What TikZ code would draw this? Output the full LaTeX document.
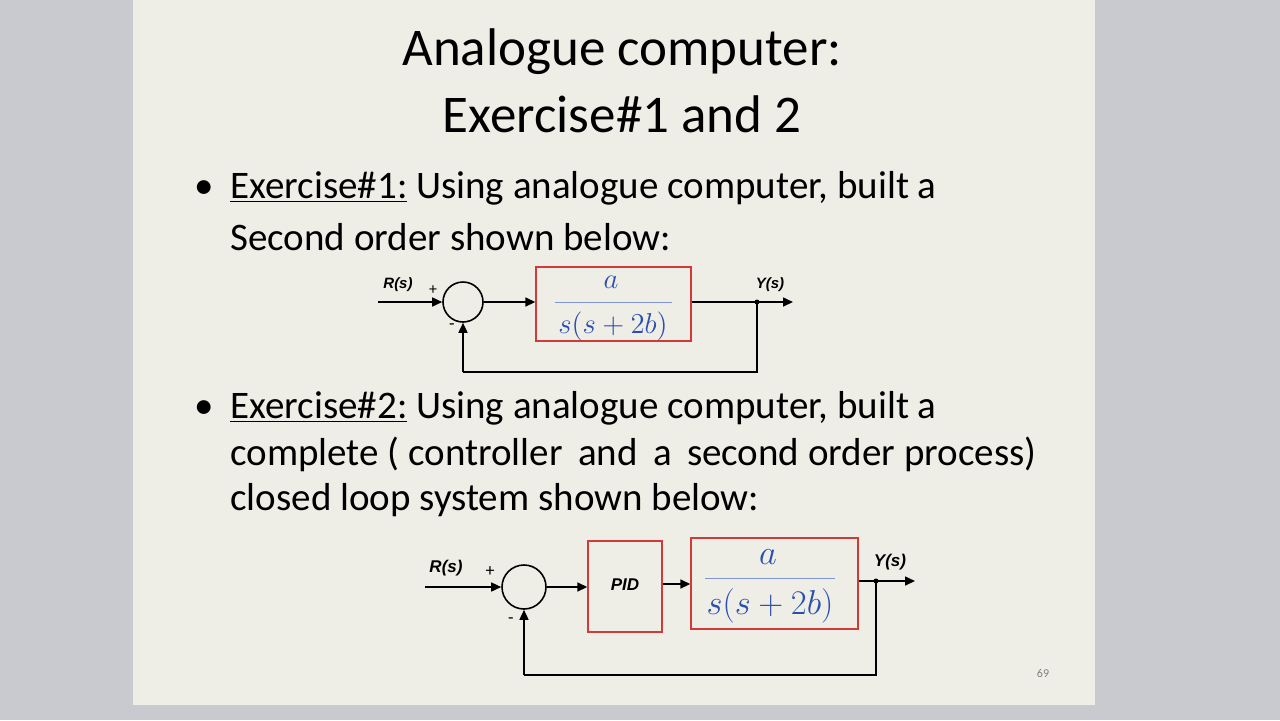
\documentclass[tikz,border=0pt]{standalone}
\usepackage{fontspec}
\setmainfont{Carlito}
\newfontfamily\arialf{Liberation Sans}
\usetikzlibrary{arrows.meta}
\definecolor{bg}{HTML}{C9CAD0}
\definecolor{slide}{HTML}{EFEEE6}
\definecolor{fblue}{HTML}{2A4FB0}
\definecolor{bred}{HTML}{D23A3A}
\tikzset{
 txt/.style={anchor=west,font=\fontsize{19.5}{22}\selectfont,inner sep=0},
 blk/.style={draw=bred,line width=0.7pt,inner sep=0},
 lab/.style={font=\arialf\bfseries\itshape\fontsize{7.5}{8}\selectfont,inner sep=0},
 sig/.style={line width=0.8pt,-{Triangle[length=5pt,width=4.5pt]}},
 ln/.style={line width=0.8pt},
 sumc/.style={circle,draw,line width=0.8pt,inner sep=0}
}
\begin{document}
\begin{tikzpicture}[x=0.5pt,y=-0.5pt]
\fill[bg] (0,0) rectangle (1280,720);
\fill[slide] (133,0) rectangle (1095,705);
\useasboundingbox (0,0) rectangle (1280,720);
\node[font=\fontsize{26.5}{26.5}\selectfont] (t1) at (622,52) {Analogue computer:};
\node[font=\fontsize{26.5}{26.5}\selectfont] (t2) at (622,114) {Exercise\#1 and 2};
\node[font=\fontsize{19.5}{22}\selectfont] (b1) at (204,190) {\textbullet};
\node[txt] (l1) at (230,188) {\underline{Exercise\#1:} Using analogue computer, built a};
\node[txt] (l2) at (230,237) {Second order shown below:};
\node[font=\fontsize{19.5}{22}\selectfont] (b2) at (204,410) {\textbullet};
\node[txt] (l3) at (230,408) {\underline{Exercise\#2:} Using analogue computer, built a};
\node[txt] (l4) at (230,454) {complete ( controller\, and\, a\, second order process)};
\node[txt] (l5) at (230,500) {closed loop system shown below:};
% diagram 1
\coordinate (r1) at (378,302);
\node[sumc,minimum size=20pt] (s1) at (463,302) {};
\node[blk,minimum width=77.5pt,minimum height=37pt] (g1) at (613.5,304) {};
\node[text=fblue,font=\fontsize{14}{14}\selectfont] (g1n) at (611,282) {$a$};
\draw[fblue!60,line width=0.5pt] (555,302) -- (672,302);
\node[text=fblue,font=\fontsize{14}{14}\selectfont] (g1d) at (613,326) {$s(s+2b)$};
\coordinate (o1) at (793,302);
\coordinate (p1) at (757,302);
\coordinate (c1) at (757,372);
\coordinate (d1) at (463,372);
\draw[sig] (r1) -- (s1.west);
\draw[sig] (s1.east) -- (s1.east -| g1.west);
\draw[ln] (p1 -| g1.east) -- (p1);
\draw[sig] (p1) -- (o1);
\fill (p1) circle (2.5);
\draw[ln] (p1) -- (c1) -- (d1);
\draw[sig] (d1) -- (s1.south);
\node[lab] (R1) at (398,285) {R(s)};
\node[lab] (Y1) at (770,285) {Y(s)};
\node[font=\fontsize{8}{8}\selectfont] (pl1) at (433,290) {+};
\node[font=\fontsize{9}{9}\selectfont] (mi1) at (452,327) {-};
% diagram 2
\coordinate (r2) at (425,587);
\node[sumc,minimum size=22pt] (s2) at (524,587) {};
\node[blk,minimum width=37pt,minimum height=45.5pt] (pid) at (625,586.5) {};
\node[lab,font=\arialf\bfseries\itshape\fontsize{8.5}{9}\selectfont] (pidt) at (625,585) {PID};
\node[blk,minimum width=83.5pt,minimum height=45.5pt] (g2) at (774.5,583.5) {};
\node[text=fblue,font=\fontsize{16}{16}\selectfont] (g2n) at (768,557) {$a$};
\draw[fblue!60,line width=0.5pt] (705,578) -- (835,578);
\node[text=fblue,font=\fontsize{16}{16}\selectfont] (g2d) at (770,606) {$s(s+2b)$};
\coordinate (o2) at (915,581);
\coordinate (p2) at (876,581);
\coordinate (c2) at (876,675);
\coordinate (d2) at (524,675);
\coordinate (m2) at (675,584);
\draw[sig] (r2) -- (s2.west);
\draw[sig] (s2.east) -- (s2.east -| pid.west);
\draw[sig] (pid.east |- m2) -- (m2 -| g2.west);
\draw[ln] (p2 -| g2.east) -- (p2);
\draw[sig] (p2) -- (o2);
\fill (p2) circle (2.5);
\draw[ln] (p2) -- (c2) -- (d2);
\draw[sig] (d2) -- (s2.south);
\node[lab,font=\arialf\bfseries\itshape\fontsize{8.5}{9}\selectfont] (R2) at (446,568) {R(s)};
\node[lab,font=\arialf\bfseries\itshape\fontsize{8.5}{9}\selectfont] (Y2) at (890,562) {Y(s)};
\node[font=\fontsize{9}{9}\selectfont] (pl2) at (490,572) {+};
\node[font=\fontsize{9}{9}\selectfont] (mi2) at (511,621) {-};
\node[text=gray,font=\fontsize{6}{6}\selectfont] (pg) at (1043,673) {69};
\end{tikzpicture}
\end{document}
